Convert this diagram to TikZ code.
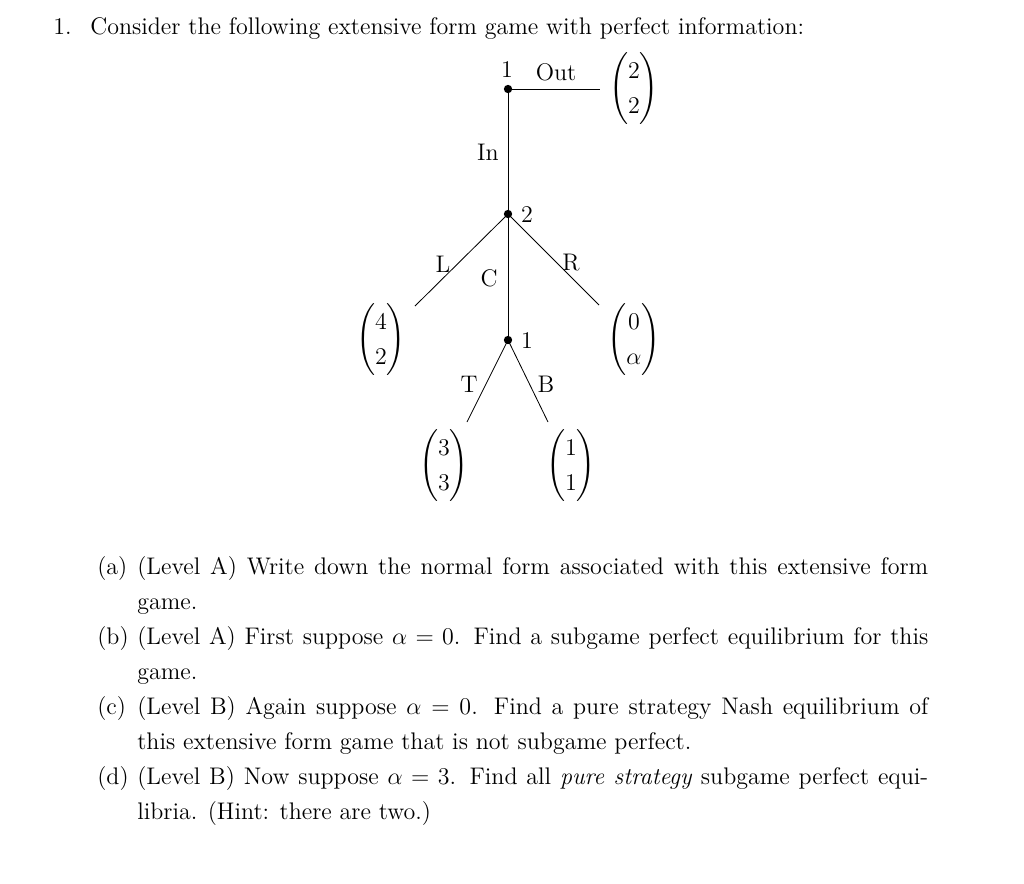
\documentclass[tikz,border=0pt]{standalone}
\usepackage{amsmath}
\begin{document}
\begin{tikzpicture}[x=0.6pt,y=-0.6pt,
  every node/.style={font=\fontsize{14.4}{21}\selectfont, inner sep=0pt},
  dot/.style={circle,fill=black,inner sep=0pt,minimum size=5pt},
  branch/.style={line width=0.5pt,black},
  lbl/.style={anchor=center},
  payoff/.style={anchor=center},
  itemtext/.style={anchor=base west,text width=474.6pt,align=justify},
  itemlabel/.style={anchor=base west}]
\useasboundingbox (0,0) rectangle (1024,883);

% header
\node[anchor=base west] (num) at (53,34) {1.};
\node[anchor=base west] (q) at (90,34) {Consider the following extensive form game with perfect information:};

% tree nodes
\node[dot] (n1) at (508,89) {};
\node[dot] (n2) at (508,214) {};
\node[dot] (n3) at (508,340) {};

% free ends
\coordinate (eOut) at (600,89);
\coordinate (eL) at (415,306);
\coordinate (eR) at (599,305);
\coordinate (eT) at (467,422);
\coordinate (eB) at (548,422);

% payoffs
\node[payoff] (pOut) at (634,89) {$\begin{pmatrix}2\\2\end{pmatrix}$};
\node[payoff] (pL) at (381,340) {$\begin{pmatrix}4\\2\end{pmatrix}$};
\node[payoff] (pR) at (634,340) {$\begin{pmatrix}0\\\alpha\end{pmatrix}$};
\node[payoff] (pT) at (444,466) {$\begin{pmatrix}3\\3\end{pmatrix}$};
\node[payoff] (pB) at (571,466) {$\begin{pmatrix}1\\1\end{pmatrix}$};

% branches
\draw[branch] (n1.center) -- (eOut);
\draw[branch] (n1.center) -- (n2.center);
\draw[branch] (n2.center) -- (eL);
\draw[branch] (n2.center) -- (n3.center);
\draw[branch] (n2.center) -- (eR);
\draw[branch] (n3.center) -- (eT);
\draw[branch] (n3.center) -- (eB);

% labels
\node[lbl] (l1) at (507,70) {1};
\node[lbl] (lOut) at (556,72) {Out};
\node[lbl] (lIn) at (488,152) {In};
\node[lbl] (l2) at (527,215) {2};
\node[lbl] (lL) at (443,264) {L};
\node[lbl] (lC) at (489,278) {C};
\node[lbl] (lR) at (571,263) {R};
\node[lbl] (l3) at (527,341) {1};
\node[lbl] (lT) at (469,384) {T};
\node[lbl] (lB) at (546,384) {B};

% questions
\node[itemlabel] (la) at (97,574) {(a)};
\node[itemtext] (ta) at (137,574) {(Level A) Write down the normal form associated with this extensive form\linebreak game.};
\node[itemlabel] (lb) at (97,644) {(b)};
\node[itemtext] (tb) at (137,644) {(Level A) First suppose $\alpha=0$. Find a subgame perfect equilibrium for this\linebreak game.};
\node[itemlabel] (lc) at (97,714) {(c)};
\node[itemtext] (tc) at (137,714) {(Level B) Again suppose $\alpha=0$. Find a pure strategy Nash equilibrium of\linebreak this extensive form game that is not subgame perfect.};
\node[itemlabel] (ld) at (97,784) {(d)};
\node[itemtext] (td) at (137,784) {(Level B) Now suppose $\alpha=3$. Find all \emph{pure strategy} subgame perfect equi-\linebreak libria. (Hint: there are two.)};
\end{tikzpicture}
\end{document}
